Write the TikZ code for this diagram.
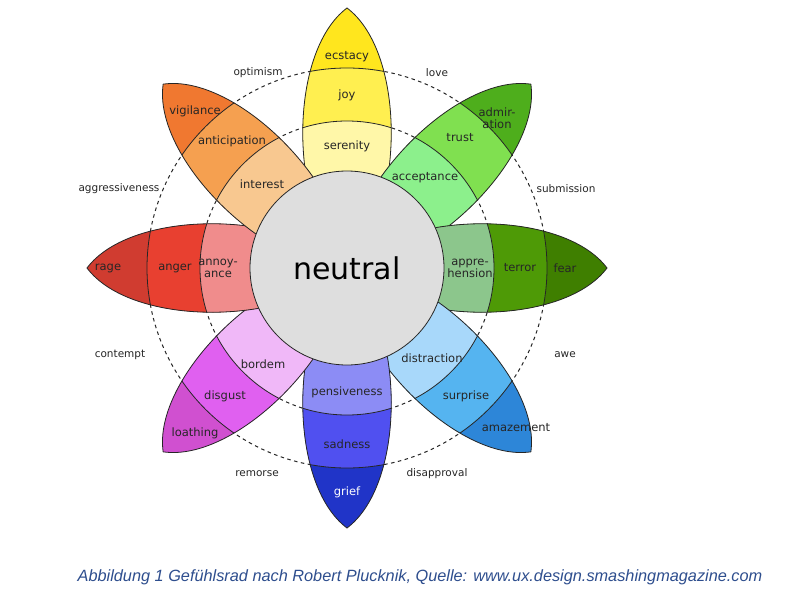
\documentclass[tikz,border=0pt]{standalone}
\usepackage{fontspec}
\setmainfont{DejaVu Sans}
\newfontfamily\capfont{Liberation Sans}
\begin{document}
\begin{tikzpicture}[x=1pt,y=1pt,
  lbl/.style={font=\fontsize{11.5}{11.8}\selectfont, text=black!85, align=center},
  olbl/.style={font=\fontsize{10.5}{11}\selectfont, text=black!85},
  petal/.style={draw=black!85, line width=0.8pt}]
\useasboundingbox (0,0) rectangle (789,-599);
\fill[white] (0,0) rectangle (789,-599);
\coordinate (c) at (347,-268);
\draw[line width=1pt, dash pattern=on 3.5pt off 3.5pt, black!85] (c) circle (147);
\draw[line width=1pt, dash pattern=on 3.5pt off 3.5pt, black!85] (c) circle (200);
\def\petalpath{(0,0) .. controls (55,58) and (215,60) .. (260,0) .. controls (215,-60) and (55,-58) .. (0,0)}
\foreach \ang/\ca/\cb/\cc in {
  90/FFF7A8/FFEF50/FFE61E,
  45/8CF08C/80E050/4EAE1C,
  0/8CC68C/4E9A06/3F7F00,
  -45/A8D8FA/55B4F0/2D86D8,
  -90/8C8CF5/5050F0/2034C8,
  -135/F0B8F8/E060F0/D050D0,
  180/F08C8C/E84030/D03C30,
  135/F8C890/F5A050/F07830}{
  \definecolor{pa}{HTML}{\ca}\definecolor{pb}{HTML}{\cb}\definecolor{pc}{HTML}{\cc}
  \begin{scope}[shift={(c)}, rotate=\ang]
    \begin{scope}
      \clip \petalpath;
      \fill[pc] (0,0) circle (270);
      \fill[pb] (0,0) circle (200);
      \fill[pa] (0,0) circle (147);
      \draw[line width=0.8pt, black!85] (0,0) circle (147) (0,0) circle (200);
    \end{scope}
    \draw[petal] \petalpath;
  \end{scope}
}
\node[circle, fill=black!13, draw=black!85, line width=0.8pt, minimum size=194pt, inner sep=0pt,
  font=\fontsize{30}{31}\selectfont] (n) at (c) {neutral};
% petal labels
\node[lbl] (l1) at (347,-146) {serenity};
\node[lbl] (l2) at (347,-95) {joy};
\node[lbl] (l3) at (347,-57) {ecstacy};
\node[lbl] (l4) at (425,-178) {acceptance};
\node[lbl] (l5) at (460,-138) {trust};
\node[lbl] (l6) at (497,-118) {admir-\\ation};
\node[lbl] (l7) at (470,-268) {appre-\\hension};
\node[lbl] (l8) at (520,-268) {terror};
\node[lbl] (l9) at (565,-268) {fear};
\node[lbl] (l10) at (432,-358) {distraction};
\node[lbl] (l11) at (466,-396) {surprise};
\node[lbl] (l12) at (516,-428) {amazement};
\node[lbl] (l13) at (347,-392) {pensiveness};
\node[lbl] (l14) at (347,-444) {sadness};
\node[lbl, text=white] (l15) at (347,-492) {grief};
\node[lbl] (l16) at (263,-364) {bordem};
\node[lbl] (l17) at (225,-396) {disgust};
\node[lbl] (l18) at (195,-433) {loathing};
\node[lbl] (l19) at (218,-268) {annoy-\\ance};
\node[lbl] (l20) at (175,-268) {anger};
\node[lbl] (l21) at (108,-268) {rage};
\node[lbl] (l22) at (262,-184) {interest};
\node[lbl] (l23) at (232,-141) {anticipation};
\node[lbl] (l24) at (195,-111) {vigilance};
% outer labels
\node[olbl] (o1) at (258,-73) {optimism};
\node[olbl] (o2) at (437,-73) {love};
\node[olbl] (o3) at (566,-189) {submission};
\node[olbl] (o4) at (565,-355) {awe};
\node[olbl] (o5) at (437,-474) {disapproval};
\node[olbl] (o6) at (257,-474) {remorse};
\node[olbl] (o7) at (120,-355) {contempt};
\node[olbl] (o8) at (119,-189) {aggressiveness};
\definecolor{capc}{HTML}{2E4E8E}
\node[font=\capfont\itshape\fontsize{16.3}{17}\selectfont, text=capc] (cap) at (420,-577)
  {Abbildung 1 Gefühlsrad nach Robert Plucknik, Quelle: www.ux.design.smashingmagazine.com};
\end{tikzpicture}
\end{document}
